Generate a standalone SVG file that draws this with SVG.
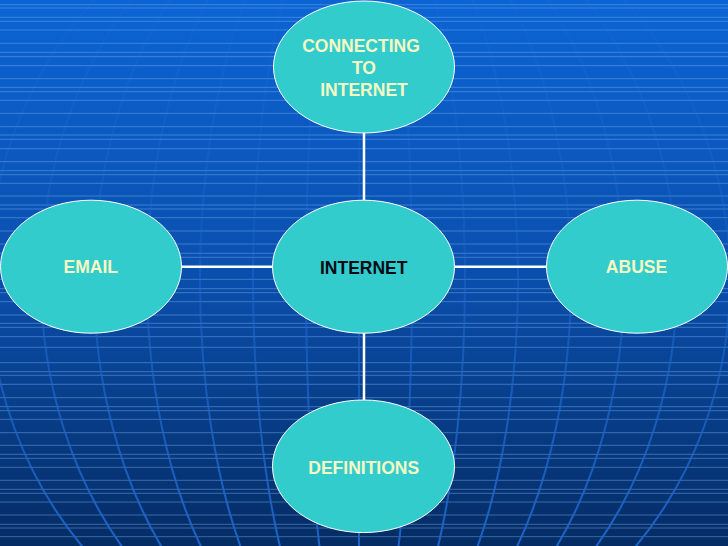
<svg xmlns="http://www.w3.org/2000/svg" width="728" height="546" viewBox="0 0 728 546">
<defs>
<linearGradient id="bg" x1="0" y1="0" x2="0" y2="1">
<stop offset="0" stop-color="#0c64d4"/>
<stop offset="0.5" stop-color="#0a4fae"/>
<stop offset="1" stop-color="#052c64"/>
</linearGradient>
<linearGradient id="mg" gradientUnits="userSpaceOnUse" x1="0" y1="0" x2="0" y2="546">
<stop offset="0" stop-color="#2a74dc" stop-opacity="0.1"/>
<stop offset="0.45" stop-color="#2270d8" stop-opacity="0.3"/>
<stop offset="0.65" stop-color="#1e68d0" stop-opacity="0.6"/>
<stop offset="1" stop-color="#1e66cc" stop-opacity="0.95"/>
</linearGradient>
<style>
.h{stroke:#7ab4f0;stroke-opacity:0.45;stroke-width:1}
.m{fill:none;stroke:url(#mg);stroke-width:2}
.node{fill:#33cccc;stroke:#ffffff;stroke-width:1}
.lbl{font-family:"Liberation Sans",Arial,sans-serif;font-weight:bold;font-size:17.5px;fill:#f6f8c4;text-anchor:middle}
.dark{fill:#050a14}
.conn{stroke:#ffffff;stroke-width:2.5}
</style>
</defs>
<g id="background">
<rect x="0" y="0" width="728" height="546" fill="url(#bg)"/>
<g id="hlines">
<line class="h" x1="0" y1="4.7" x2="728" y2="4.7"/>
<line class="h" x1="0" y1="8" x2="728" y2="8"/>
<line class="h" x1="0" y1="17.3" x2="728" y2="17.3"/>
<line class="h" x1="0" y1="21.3" x2="728" y2="21.3"/>
<line class="h" x1="0" y1="30" x2="728" y2="30"/>
<line class="h" x1="0" y1="43.3" x2="728" y2="43.3"/>
<line class="h" x1="0" y1="52.3" x2="728" y2="52.3"/>
<line class="h" x1="0" y1="56.7" x2="728" y2="56.7"/>
<line class="h" x1="0" y1="65.7" x2="728" y2="65.7"/>
<line class="h" x1="0" y1="78.7" x2="728" y2="78.7"/>
<line class="h" x1="0" y1="87.3" x2="728" y2="87.3"/>
<line class="h" x1="0" y1="91.7" x2="728" y2="91.7"/>
<line class="h" x1="0" y1="100.3" x2="728" y2="100.3"/>
<line class="h" x1="0" y1="113.3" x2="728" y2="113.3"/>
<line class="h" x1="0" y1="126.7" x2="728" y2="126.7"/>
<line class="h" x1="0" y1="135" x2="728" y2="135"/>
<line class="h" x1="0" y1="139.3" x2="728" y2="139.3"/>
<line class="h" x1="0" y1="148.7" x2="728" y2="148.7"/>
<line class="h" x1="0" y1="161.7" x2="728" y2="161.7"/>
<line class="h" x1="0" y1="170.7" x2="728" y2="170.7"/>
<line class="h" x1="0" y1="174.7" x2="728" y2="174.7"/>
<line class="h" x1="0" y1="183.3" x2="728" y2="183.3"/>
<line class="h" x1="0" y1="196" x2="728" y2="196"/>
<line class="h" x1="0" y1="205" x2="728" y2="205"/>
<line class="h" x1="0" y1="209" x2="728" y2="209"/>
<line class="h" x1="0" y1="217.7" x2="728" y2="217.7"/>
<line class="h" x1="0" y1="231" x2="728" y2="231"/>
<line class="h" x1="0" y1="244" x2="728" y2="244"/>
<line class="h" x1="0" y1="253.3" x2="728" y2="253.3"/>
<line class="h" x1="0" y1="257.3" x2="728" y2="257.3"/>
<line class="h" x1="0" y1="279.3" x2="728" y2="279.3"/>
<line class="h" x1="0" y1="288.7" x2="728" y2="288.7"/>
<line class="h" x1="0" y1="292.7" x2="728" y2="292.7"/>
<line class="h" x1="0" y1="301.7" x2="728" y2="301.7"/>
<line class="h" x1="0" y1="315" x2="728" y2="315"/>
<line class="h" x1="0" y1="323.3" x2="728" y2="323.3"/>
<line class="h" x1="0" y1="327.3" x2="728" y2="327.3"/>
<line class="h" x1="0" y1="336.7" x2="728" y2="336.7"/>
<line class="h" x1="0" y1="347.3" x2="728" y2="347.3"/>
<line class="h" x1="0" y1="362.7" x2="728" y2="362.7"/>
<line class="h" x1="0" y1="371.7" x2="728" y2="371.7"/>
<line class="h" x1="0" y1="375.3" x2="728" y2="375.3"/>
<line class="h" x1="0" y1="384.3" x2="728" y2="384.3"/>
<line class="h" x1="0" y1="397.7" x2="728" y2="397.7"/>
<line class="h" x1="0" y1="406.7" x2="728" y2="406.7"/>
<line class="h" x1="0" y1="410.7" x2="728" y2="410.7"/>
<line class="h" x1="0" y1="419.3" x2="728" y2="419.3"/>
<line class="h" x1="0" y1="432.7" x2="728" y2="432.7"/>
<line class="h" x1="0" y1="445.3" x2="728" y2="445.3"/>
<line class="h" x1="0" y1="454.3" x2="728" y2="454.3"/>
<line class="h" x1="0" y1="458.3" x2="728" y2="458.3"/>
<line class="h" x1="0" y1="467.3" x2="728" y2="467.3"/>
<line class="h" x1="0" y1="480.3" x2="728" y2="480.3"/>
<line class="h" x1="0" y1="489.3" x2="728" y2="489.3"/>
<line class="h" x1="0" y1="493.3" x2="728" y2="493.3"/>
<line class="h" x1="0" y1="502" x2="728" y2="502"/>
<line class="h" x1="0" y1="515" x2="728" y2="515"/>
<line class="h" x1="0" y1="524.3" x2="728" y2="524.3"/>
<line class="h" x1="0" y1="528" x2="728" y2="528"/>
<line class="h" x1="0" y1="536.7" x2="728" y2="536.7"/>
</g>
<g id="meridians">
<line class="m" x1="359" y1="0" x2="359" y2="546"/>
<ellipse class="m" cx="359" cy="280" rx="53" ry="400"/>
<ellipse class="m" cx="359" cy="280" rx="106" ry="400"/>
<ellipse class="m" cx="359" cy="280" rx="159" ry="400"/>
<ellipse class="m" cx="359" cy="280" rx="212" ry="400"/>
<ellipse class="m" cx="359" cy="280" rx="265" ry="400"/>
<ellipse class="m" cx="359" cy="280" rx="318" ry="400"/>
<ellipse class="m" cx="359" cy="280" rx="371" ry="400"/>
</g>
</g>
<g id="connectors">
<line class="conn" x1="364" y1="133" x2="364" y2="200.5"/>
<line class="conn" x1="364" y1="333" x2="364" y2="400.5"/>
<line class="conn" x1="181.5" y1="266.7" x2="272.5" y2="266.7"/>
<line class="conn" x1="454.5" y1="266.7" x2="546.5" y2="266.7"/>
</g>
<g id="node-connecting">
<ellipse class="node" cx="364" cy="67" rx="90.5" ry="66"/>
<text class="lbl" x="361" y="52.3">CONNECTING</text>
<text class="lbl" x="364" y="74">TO</text>
<text class="lbl" x="364" y="95.7">INTERNET</text>
</g>
<g id="node-internet">
<ellipse class="node" cx="363.5" cy="266.7" rx="91" ry="66.5"/>
<text class="lbl dark" x="363.7" y="274">INTERNET</text>
</g>
<g id="node-email">
<ellipse class="node" cx="91" cy="266.7" rx="90.5" ry="66.5"/>
<text class="lbl" x="90.8" y="273.3">EMAIL</text>
</g>
<g id="node-abuse">
<ellipse class="node" cx="637" cy="266.7" rx="90.5" ry="66.5"/>
<text class="lbl" x="636.5" y="273.3">ABUSE</text>
</g>
<g id="node-definitions">
<ellipse class="node" cx="363.5" cy="466.3" rx="91" ry="66.3"/>
<text class="lbl" x="363.7" y="474">DEFINITIONS</text>
</g>
</svg>
